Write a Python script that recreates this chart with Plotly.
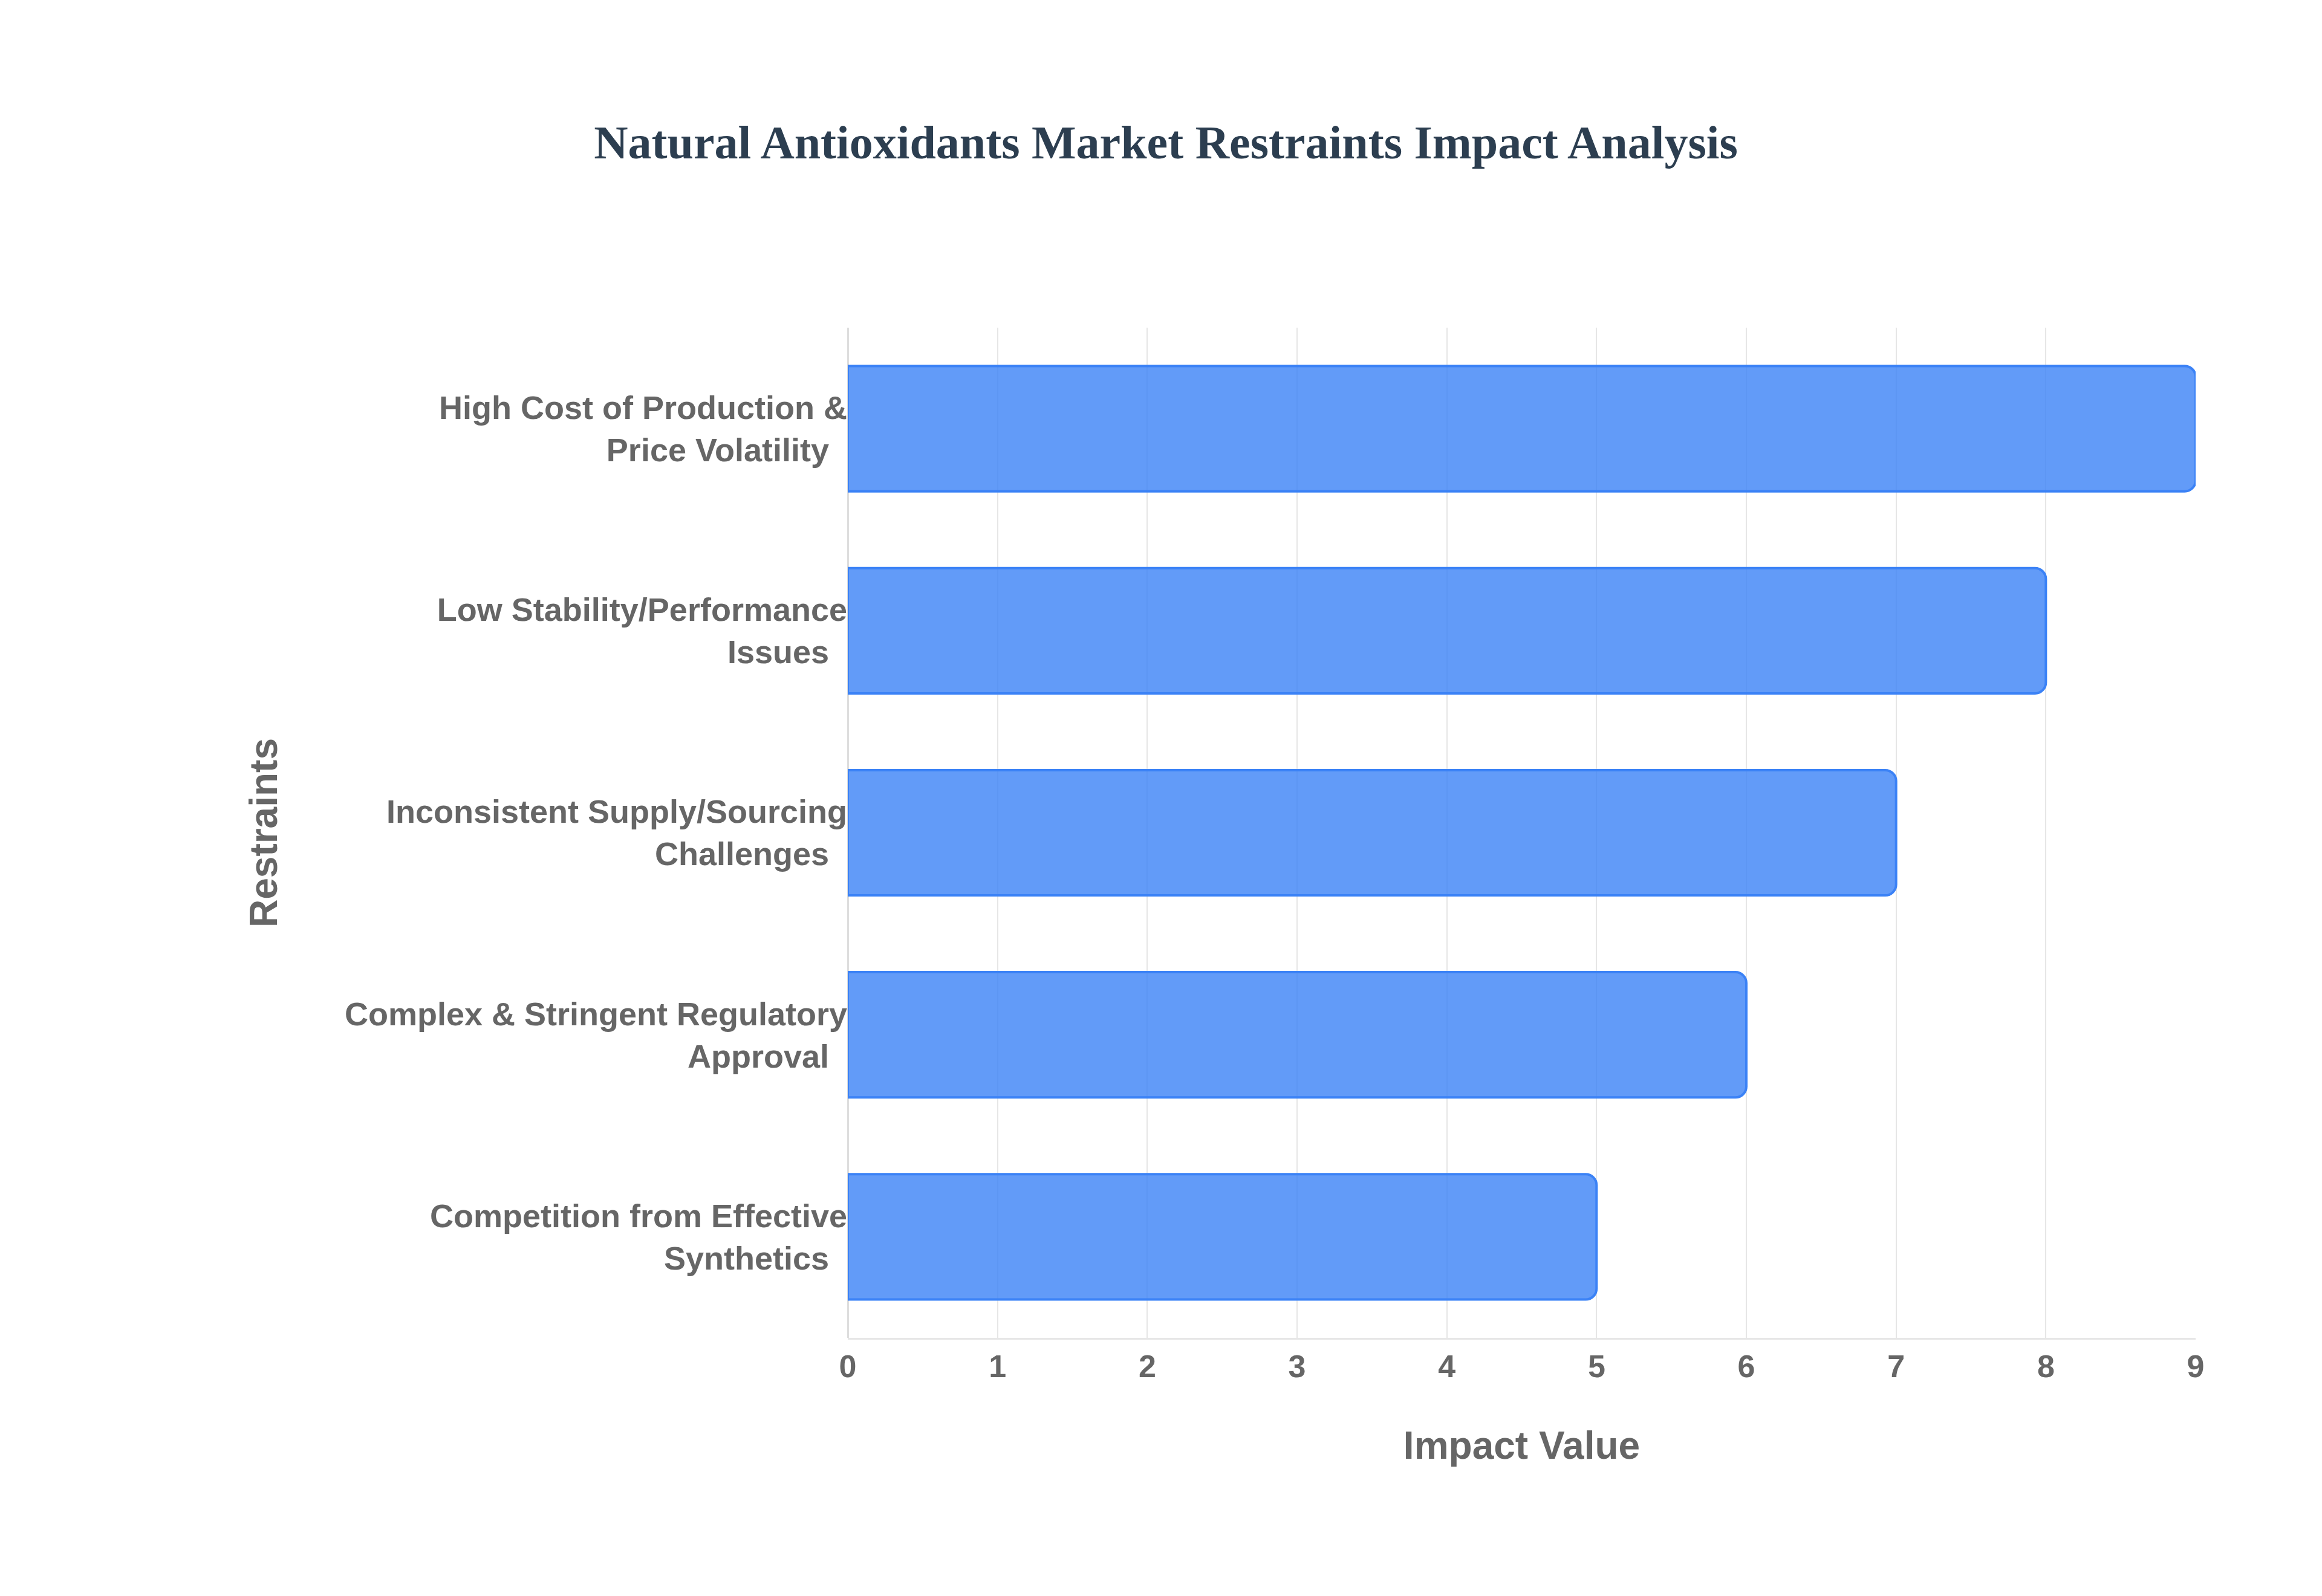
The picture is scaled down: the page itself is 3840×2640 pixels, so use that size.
import plotly.graph_objects as go

restraints = [
    "High Cost of Production &<br>Price Volatility",
    "Low Stability/Performance<br>Issues",
    "Inconsistent Supply/Sourcing<br>Challenges",
    "Complex & Stringent Regulatory<br>Approval",
    "Competition from Effective<br>Synthetics",
]
impact = [9, 8, 7, 6, 5]
x_ticks = list(range(0, 10))

fig = go.Figure(go.Bar(
    x=impact, y=restraints, orientation="h",
    marker=dict(color="rgba(59,130,246,0.8)", line=dict(color="#3b82f6", width=4)),
    width=0.62,
))
fig.update_layout(
    width=3840, height=2640,
    paper_bgcolor="white", plot_bgcolor="white",
    barcornerradius=18,
    margin=dict(l=1394, r=217, t=534, b=435),
    title=dict(text="<b>Natural Antioxidants Market Restraints Impact Analysis</b>",
               x=0.5, xanchor="center", y=0.914, yanchor="middle",
               font=dict(family="Liberation Serif", size=78, color="#2c3e50")),
    font=dict(family="Liberation Sans", color="#666666"),
    showlegend=False,
)
fig.update_xaxes(
    range=[0, 9], tickvals=x_ticks, showgrid=True, gridcolor="#e6e6e6", gridwidth=2,
    tickfont=dict(size=52, family="Liberation Sans", color="#666666", weight="bold"),
    title=dict(text="<b>Impact Value</b>", font=dict(size=64, color="#666666"), standoff=80),
    zeroline=True, zerolinecolor="#dddddd", zerolinewidth=3,
    showline=True, linecolor="#e6e6e6", linewidth=3, ticks="", ticklen=0,
)
fig.update_yaxes(
    autorange="reversed",
    tickfont=dict(size=54, family="Liberation Sans", color="#666666", weight="bold"),
    title=dict(text="<b>Restraints</b>", font=dict(size=64, color="#666666"), standoff=90),
    ticksuffix="  ", showgrid=False,
)
fig.write_html("out.html")
